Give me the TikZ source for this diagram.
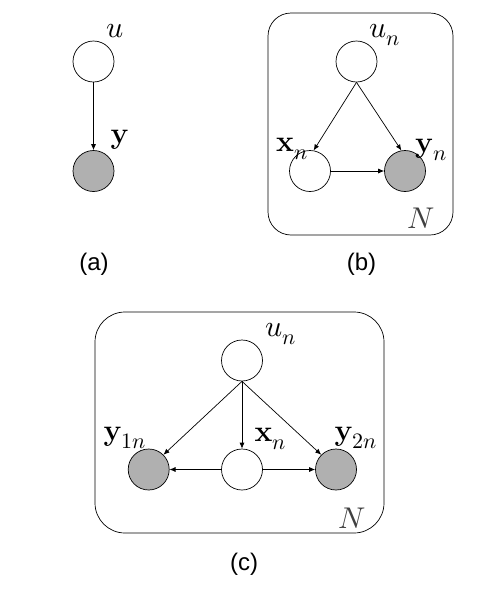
\documentclass[tikz,border=0pt]{standalone}
\usepackage{fontspec}
\usepackage{unicode-math}
\setmathfont{Latin Modern Math}
\DeclareMathSizes{30}{30}{22}{16}
\newfontfamily\capfont{Liberation Sans}
\usetikzlibrary{arrows.meta}

\begin{document}
\begin{tikzpicture}
[->,>={Latex[length=6pt,width=5pt]},line width=0.7pt,x=1pt,y=-1pt,%
  var/.style={shape=circle,draw,fill=white,minimum size=41pt,inner sep=0pt},%
  obs/.style={var,fill=black!31},%
  lbl/.style={inner sep=0pt,font=\fontsize{30}{34}\selectfont},%
  subcap/.style={inner sep=0pt,font=\capfont\fontsize{24}{28}\selectfont}]
\useasboundingbox (0,0) rectangle (492,595);
% (a)
\node[var] (u) at (93.5,61.5) {};
\node[obs] (y) at (93.5,171) {};
\node[lbl] (ul) at (115.5,31) {$u$};
\node[lbl] (yl) at (119.5,140) {$\mathbf{y}$};
\draw (u) -- (y);
\node[subcap] (capa) at (94,264) {(a)};
% (b)
\draw[-,rounded corners=23pt] (268,13) rectangle (453,235);
\node[var] (bun) at (356.5,61.5) {};
\node[var] (bxn) at (310,171) {};
\node[obs] (byn) at (405,171) {};
\node[lbl] (bunl) at (385,35) {$u_n$};
\node[lbl] (bxnl) at (292,149) {$\mathbf{x}_n$};
\node[lbl] (bynl) at (431,150) {$\mathbf{y}_n$};
\node[lbl,black!75] (bN) at (421.5,218) {$N$};
\draw (bun.south) -- (bxn.80);
\draw (bun.south) -- (byn.100);
\draw (bxn) -- (byn);
\node[subcap] (capb) at (361.5,264) {(b)};
% (c)
\draw[-,rounded corners=30pt] (95,312) rectangle (384,533);
\node[var] (cun) at (242,360.5) {};
\node[var] (cxn) at (242,469.5) {};
\node[obs] (cy1) at (148.7,469.5) {};
\node[obs] (cy2) at (336,469.5) {};
\node[lbl] (cunl) at (281,334) {$u_n$};
\node[lbl] (cy1l) at (125,438) {$\mathbf{y}_{1n}$};
\node[lbl] (cxnl) at (270.5,439) {$\mathbf{x}_n$};
\node[lbl] (cy2l) at (356,438) {$\mathbf{y}_{2n}$};
\node[lbl,black!75] (cN) at (352,518) {$N$};
\draw (cun.south) -- (cy1.45);
\draw (cun) -- (cxn);
\draw (cun.south) -- (cy2.135);
\draw (cxn) -- (cy1);
\draw (cxn) -- (cy2);
\node[subcap] (capc) at (244,564) {(c)};
\end{tikzpicture}
\end{document}
